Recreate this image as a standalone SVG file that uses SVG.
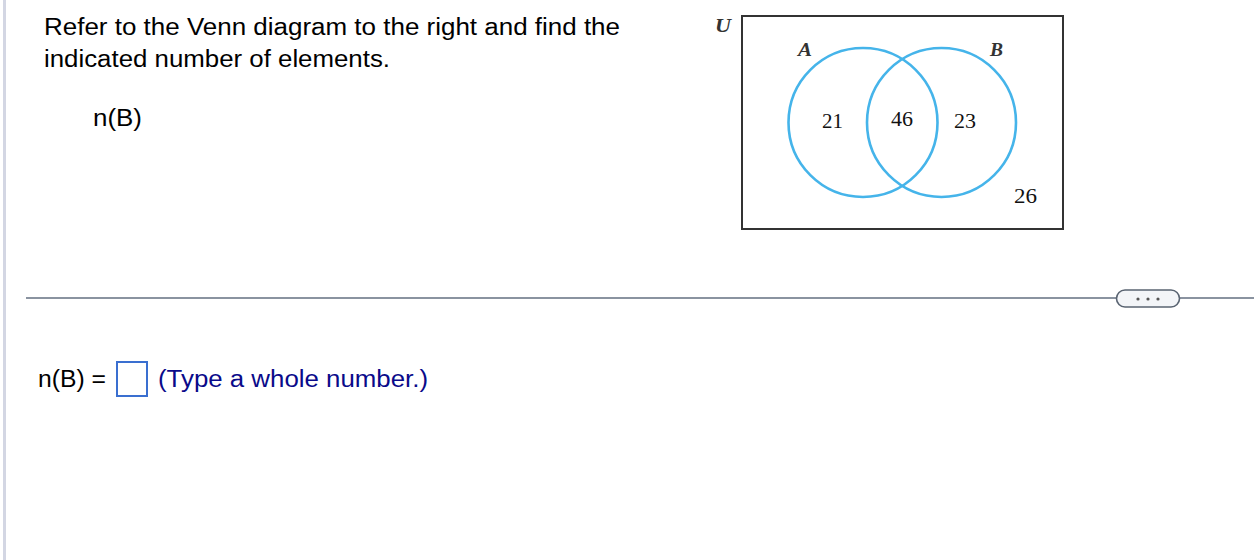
<svg xmlns="http://www.w3.org/2000/svg" width="1254" height="560" viewBox="0 0 1254 560">
  <style>
    .sans { font-family: "Liberation Sans", Arial, sans-serif; font-size: 23px; fill: #000; }
    .hint { fill: #0a0a8a; }
    .serif { font-family: "Liberation Serif", "Times New Roman", serif; font-size: 20px; fill: #111; }
    .lbl { font-family: "Liberation Serif", "Times New Roman", serif; font-size: 19px; font-style: italic; font-weight: bold; fill: #333; }
    .venn { fill: none; stroke: #45b4ea; stroke-width: 2.6; }
  </style>
  <rect x="0" y="0" width="1254" height="560" fill="#ffffff"/>
  <rect x="3" y="0" width="3" height="560" fill="#d3d6e3"/>

  <g id="question">
    <text class="sans" x="44" y="35" textLength="576" lengthAdjust="spacingAndGlyphs">Refer to the Venn diagram to the right and find the</text>
    <text class="sans" x="44" y="67" textLength="346" lengthAdjust="spacingAndGlyphs">indicated number of elements.</text>
    <text class="sans" x="93" y="126" textLength="49" lengthAdjust="spacingAndGlyphs">n(B)</text>
  </g>

  <g id="venn">
    <rect x="742" y="16" width="321" height="213" fill="none" stroke="#333" stroke-width="2"/>
    <text class="lbl" x="715" y="32" textLength="16" lengthAdjust="spacingAndGlyphs">U</text>
    <g id="circleA">
      <circle class="venn" cx="863" cy="122.5" r="74.5"/>
      <text class="lbl" x="798" y="56" textLength="14" lengthAdjust="spacingAndGlyphs">A</text>
    </g>
    <g id="circleB">
      <circle class="venn" cx="941.5" cy="122.5" r="74.5"/>
      <text class="lbl" x="990" y="56" textLength="13" lengthAdjust="spacingAndGlyphs">B</text>
    </g>
    <text class="serif" x="822" y="128" textLength="21" lengthAdjust="spacingAndGlyphs">21</text>
    <text class="serif" x="891" y="126" textLength="22" lengthAdjust="spacingAndGlyphs">46</text>
    <text class="serif" x="954" y="128" textLength="22" lengthAdjust="spacingAndGlyphs">23</text>
    <text class="serif" x="1014" y="203" textLength="23" lengthAdjust="spacingAndGlyphs">26</text>
  </g>

  <g id="divider">
    <line x1="26" y1="298" x2="1116" y2="298" stroke="#8a93a0" stroke-width="2"/>
    <line x1="1180" y1="298" x2="1254" y2="298" stroke="#8a93a0" stroke-width="2"/>
    <rect x="1116.5" y="290" width="63" height="17" rx="8.5" fill="#f3f5f8" stroke="#5a6472" stroke-width="1.6"/>
    <circle cx="1138" cy="299" r="1.6" fill="#555"/>
    <circle cx="1148" cy="299" r="1.6" fill="#555"/>
    <circle cx="1158" cy="299" r="1.6" fill="#555"/>
  </g>

  <g id="answer">
    <text class="sans" x="38" y="387" textLength="68" lengthAdjust="spacingAndGlyphs">n(B) =</text>
    <rect x="117" y="362" width="30" height="34" fill="#fff" stroke="#3a6fd0" stroke-width="2"/>
    <text class="sans hint" x="158" y="387" textLength="270" lengthAdjust="spacingAndGlyphs">(Type a whole number.)</text>
  </g>
</svg>
